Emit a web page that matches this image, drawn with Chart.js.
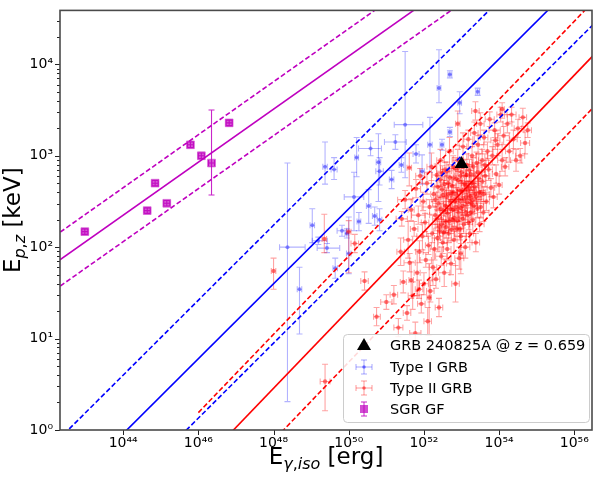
<!DOCTYPE html>
<html lang="en">
<head>
<meta charset="UTF-8">
<title>Ep,z - Eiso</title>
<script src="https://cdn.jsdelivr.net/npm/chart.js"></script>
<style>
    html, body { margin: 0; padding: 0; background: #fff; }
    canvas { display: block; }
</style>
</head>
<body>
<canvas id="amati" width="600" height="478"></canvas>
<script>
// everything below is in log10 units
const xRange = [42.32, 56.47];
const yRange = [0, 4.59];
const xTickExps = [44, 46, 48, 50, 52, 54, 56];
const yTickExps = [0, 1, 2, 3, 4];

const grbNew = [[53.0, 2.91]];

// [logE, logEp, xlo, xhi, ylo, yhi]
const typeI = [
    [52.69,3.89,.05,.05,.04,.04],[52.40,3.74,.05,.05,.16,.42],[53.43,3.70,.05,.05,.04,.04],
    [52.95,3.58,.05,.05,.12,.12],[52.69,3.26,.05,.05,.05,.05],[51.50,3.34,.29,.47,.58,.80],
    [51.24,3.15,.29,.29,.08,.08],[52.16,3.12,.06,.06,.30,.30],[52.48,3.12,.05,.05,.06,.06],
    [51.79,3.02,.08,.08,.10,.10],[50.58,3.08,.32,.29,.08,.08],[50.21,2.98,.05,.05,.21,.22],
    [50.79,2.93,.06,.06,.43,.31],[49.37,2.88,.06,.06,.19,.27],[49.61,2.85,.08,.08,.11,.13],
    [50.82,2.83,.10,.10,.15,.15],[51.95,2.83,.06,.06,.14,.18],[51.40,2.90,.06,.06,.08,.08],
    [50.14,2.55,.26,.26,.37,.27],[50.53,2.45,.06,.06,.19,.18],[50.69,2.34,.06,.06,.10,.10],
    [49.03,2.24,.06,.06,.19,.18],[48.37,2.00,.21,.47,1.69,.92],[49.82,2.18,.13,.13,.06,.06],
    [49.95,2.15,.05,.05,.05,.05],[50.27,2.28,.05,.05,.10,.10],[50.82,2.30,.06,.06,.12,.12],
    [49.19,2.07,.16,.24,.04,.04],[49.42,1.99,.26,.34,.05,.05],[48.69,1.54,.06,.06,.49,.24],
    [49.64,1.77,.06,.06,.11,.11],[50.00,1.93,.06,.06,.22,.40],[51.14,2.74,.06,.06,.10,.10]
];

// scattered type II points, [logE, logEp, xlo, xhi, ylo, yhi]
const typeIIOut = [
    [48.00,1.74,.06,.06,.20,.14],[49.35,2.09,.06,.06,.15,.27],[49.37,0.53,.13,.13,.32,.19],
    [50.00,2.17,.06,.06,.45,.12],[50.16,2.04,.10,.10,.10,.10],[50.42,1.63,.10,.10,.10,.10],
    [50.74,1.24,.08,.10,.10,.10],[51.00,1.40,.15,.15,.08,.08],[51.20,1.48,.10,.10,.10,.10],
    [51.61,2.87,.06,.06,.20,.16],[51.66,1.64,.06,.06,.20,.20],[51.87,1.54,.10,.10,.10,.10],
    [52.14,1.45,.06,.06,.41,.37],[52.98,1.93,.06,.06,.22,.22],[52.90,3.35,.06,.06,.24,.14],
    [54.08,3.51,.06,.06,.10,.07]
];

// main type II cloud, [logE, logEp, xerr, yerr]
const typeIICloud = [
    [51.32,1.12,.12,.10],[51.38,1.95,.10,.15],[51.41,2.31,.15,.08],[51.45,1.62,.08,.12],[51.50,2.52,.20,.10],
    [51.55,1.28,.10,.08],[51.58,2.08,.12,.20],[51.62,1.83,.15,.10],[51.66,2.41,.08,.12],[51.70,1.47,.12,.15],
    [51.74,2.20,.10,.08],[51.77,1.06,.15,.12],[51.79,2.64,.12,.10],[51.82,1.72,.08,.25],[51.85,2.35,.18,.10],
    [51.88,1.95,.10,.12],[51.90,2.78,.12,.08],[51.93,1.38,.10,.10],[51.96,2.12,.15,.15],[51.98,2.50,.08,.10],
    [52.00,1.60,.12,.12],[52.03,2.27,.10,.10],[52.05,1.86,.15,.08],[52.08,2.70,.12,.12],[52.10,1.19,.10,.15],
    [52.12,2.02,.08,.10],[52.15,2.44,.20,.08],[52.17,1.52,.10,.12],[52.20,2.88,.12,.15],[52.22,2.15,.15,.10],
    [52.24,1.78,.10,.20],[52.26,2.58,.08,.08],[52.28,1.98,.12,.12],[52.30,2.35,.15,.10],[52.32,1.65,.10,.10],
    [52.34,2.79,.12,.12],[52.36,2.10,.08,.15],[52.38,2.48,.15,.08],[52.40,1.34,.10,.10],[52.42,2.22,.12,.10],
    [52.44,2.95,.10,.12],[52.46,1.90,.15,.10],[52.48,2.63,.08,.08],[52.50,2.05,.12,.12],[52.52,2.40,.10,.10],
    [52.54,1.72,.15,.15],[52.56,2.85,.12,.08],[52.58,2.28,.08,.12],[52.60,2.55,.15,.10],[52.62,1.98,.10,.12],
    [52.64,2.70,.12,.08],[52.66,2.15,.15,.10],[52.68,3.05,.10,.15],[52.70,2.42,.08,.10],[52.72,1.82,.12,.12],
    [52.74,2.60,.15,.08],[52.76,2.30,.10,.10],[52.78,2.88,.12,.12],[52.80,2.08,.08,.15],[52.82,2.50,.15,.10],
    [52.84,1.60,.10,.20],[52.86,2.75,.12,.10],[52.88,2.20,.10,.08],[52.90,2.95,.15,.12],[52.92,2.38,.10,.10],
    [52.94,1.88,.12,.12],[52.96,2.62,.08,.10],[52.98,2.12,.15,.08],[53.00,2.82,.10,.12],[53.02,2.45,.12,.10],
    [53.04,3.10,.10,.15],[53.06,2.25,.15,.10],[53.08,2.70,.08,.08],[53.10,2.00,.12,.12],[53.12,2.55,.10,.10],
    [53.14,2.90,.15,.12],[53.16,2.35,.10,.08],[53.18,3.18,.12,.10],[53.20,2.65,.08,.12],[53.22,2.15,.10,.10],
    [53.24,2.80,.12,.08],[53.26,2.48,.15,.12],[53.28,3.00,.10,.10],[53.30,2.30,.08,.15],[53.32,2.70,.12,.10],
    [53.34,3.25,.10,.12],[53.36,2.58,.15,.08],[53.38,2.05,.10,.10],[53.40,2.92,.12,.12],[53.42,2.42,.08,.10],
    [53.44,3.12,.15,.10],[53.46,2.75,.10,.27],[53.48,2.25,.12,.08],[53.50,3.35,.10,.12],[53.52,2.60,.12,.10],
    [53.55,2.95,.10,.12],[53.58,2.38,.15,.10],[53.60,3.20,.10,.08],[53.63,2.78,.12,.12],[53.66,2.50,.08,.10],
    [53.69,3.05,.15,.10],[53.72,2.85,.10,.12],[53.75,3.40,.12,.08],[53.78,2.65,.10,.10],[53.82,3.00,.12,.10],
    [53.85,2.55,.10,.12],[53.88,3.28,.15,.08],[53.92,2.80,.10,.10],[53.96,3.12,.12,.12],[54.00,2.68,.08,.10],
    [54.04,3.45,.10,.08],[54.08,2.95,.12,.12],[54.12,3.22,.15,.10],[54.16,2.88,.10,.10],[54.22,3.35,.12,.10],
    [54.27,3.05,.10,.12],[54.33,3.45,.12,.08],[54.38,3.18,.10,.10],[54.45,2.95,.15,.12],[54.50,3.30,.10,.10],
    [54.56,3.00,.12,.08],[54.63,3.42,.10,.10],[54.69,3.14,.12,.12],[54.76,3.28,.10,.08],[53.37,3.49,.10,.10],
    [53.90,3.17,.12,.10],
    [52.31,2.52,.10,.08],[52.35,2.31,.12,.10],[52.37,2.66,.08,.12],[52.41,2.18,.15,.10],[52.43,2.74,.10,.08],
    [52.45,2.42,.12,.12],[52.47,2.25,.10,.10],[52.49,2.81,.15,.08],[52.51,2.57,.08,.10],[52.53,2.16,.12,.12],
    [52.55,2.69,.10,.10],[52.57,2.45,.15,.08],[52.59,2.22,.10,.12],[52.61,2.83,.12,.10],[52.63,2.37,.08,.08],
    [52.65,2.58,.10,.12],[52.67,2.28,.15,.10],[52.69,2.76,.10,.10],[52.71,2.50,.12,.08],[52.73,2.19,.08,.12],
    [52.75,2.67,.10,.10],[52.77,2.41,.15,.12],[52.79,2.60,.10,.08],[52.81,2.32,.12,.10],[52.83,2.86,.08,.12],
    [52.85,2.44,.10,.10],[52.87,2.57,.15,.08],[52.89,2.29,.10,.12],[52.91,2.73,.12,.10],[52.93,2.52,.08,.10],
    [52.95,2.20,.10,.12],[52.97,2.78,.15,.08],[52.99,2.43,.10,.10],[53.01,2.61,.12,.12],[53.03,2.31,.08,.10],
    [53.05,2.88,.10,.08],[53.07,2.52,.15,.12],[53.09,2.68,.10,.10],[53.11,2.38,.12,.08],[53.13,2.79,.08,.12],
    [53.15,2.49,.10,.10],[53.17,2.62,.15,.10],[53.19,2.27,.10,.08],[53.21,2.84,.12,.12],[53.23,2.56,.08,.10],
    [53.25,2.38,.10,.10],[53.27,2.70,.15,.08],[53.29,2.51,.10,.12],[53.31,2.88,.12,.10],[53.33,2.45,.08,.08],
    [53.35,2.66,.10,.12],[53.39,2.55,.15,.10],[53.43,2.82,.10,.10],[53.47,2.60,.12,.08],[53.51,2.44,.08,.12],
    [53.55,2.72,.10,.10],[53.59,2.58,.15,.08],[53.62,2.90,.10,.12]
];

// SGR giant flares, [logE, logEp, xerr, ylo, yhi]
const sgr = [
    [42.98,2.17,.08,.03,.03],[44.64,2.40,.08,.03,.03],[44.85,2.70,.08,.03,.03],[45.16,2.48,.08,.03,.03],
    [45.79,3.12,.08,.03,.03],[46.08,3.00,.08,.03,.03],[46.35,2.92,.08,.35,.58],[46.82,3.36,.08,.03,.03]
];

// fitted relations and their scatter, two end points each [logE, logEp]
const sgrFit = [[42, 1.77], [53, 4.96]];
const sgrFitHi = [[42, 2.07], [53, 5.26]];
const sgrFitLo = [[42, 1.48], [53, 4.67]];
const typeIFit = [[42, -0.86], [57, 5.29]];
const typeIFitHi = [[42, -0.22], [57, 5.93]];
const typeIFitLo = [[42, -1.51], [57, 4.64]];
const typeIIFit = [[46, -0.40], [57, 4.31]];
const typeIIFitHi = [[46, 0.19], [57, 4.90]];
const typeIIFitLo = [[46, -0.97], [57, 3.74]];

const pw = v => Math.pow(10, v);
const toPt = ([e, p, xlo, xhi, ylo, yhi]) => ({
    x: pw(e), y: pw(p), xl: pw(e - xlo), xh: pw(e + xhi), yl: pw(p - ylo), yh: pw(p + yhi)
});
const linePts = arr => arr.map(([e, p]) => ({ x: pw(e), y: pw(p) }));

const typeIPts = typeI.map(toPt);
const typeIIPts = typeIIOut.map(toPt)
    .concat(typeIICloud.map(([e, p, ex, ey]) => toPt([e, p, ex, ex, ey, ey])));
const sgrPts = sgr.map(([e, p, ex, ylo, yhi]) => toPt([e, p, ex, ex, ylo, yhi]));

const SUP = '⁰¹²³⁴⁵⁶⁷⁸⁹';
const powLabel = v => {
    const n = Math.round(Math.log10(v));
    return '10' + String(n).split('').map(d => SUP[+d]).join('');
};

const FONT = "'DejaVu Sans', sans-serif";
Chart.defaults.font.family = FONT;

// error bars drawn right under each dataset's markers
const errorBars = {
    id: 'errorBars',
    beforeDatasetDraw(chart, args) {
        const ds = chart.data.datasets[args.index];
        if (!ds.errColor) return;
        const { ctx, chartArea: a, scales: { x, y } } = chart;
        const cap = 3;
        ctx.save();
        ctx.beginPath();
        ctx.rect(a.left, a.top, a.width, a.height);
        ctx.clip();
        ctx.strokeStyle = ds.errColor;
        ctx.lineWidth = 1.1;
        ds.data.forEach(p => {
            const px = x.getPixelForValue(p.x), py = y.getPixelForValue(p.y);
            const x0 = x.getPixelForValue(p.xl), x1 = x.getPixelForValue(p.xh);
            const y0 = y.getPixelForValue(p.yl), y1 = y.getPixelForValue(p.yh);
            ctx.beginPath();
            ctx.moveTo(x0, py); ctx.lineTo(x1, py);
            ctx.moveTo(px, y0); ctx.lineTo(px, y1);
            ctx.moveTo(x0, py - cap); ctx.lineTo(x0, py + cap);
            ctx.moveTo(x1, py - cap); ctx.lineTo(x1, py + cap);
            ctx.moveTo(px - cap, y0); ctx.lineTo(px + cap, y0);
            ctx.moveTo(px - cap, y1); ctx.lineTo(px + cap, y1);
            ctx.stroke();
        });
        ctx.restore();
    }
};

// text pieces with sub-scripts; parts = [text, size, italic, drop]
function drawMath(ctx, parts, cx, baseY) {
    const fontOf = p => (p[2] ? 'italic ' : '') + p[1] + 'px ' + FONT;
    let total = 0;
    parts.forEach(p => { ctx.font = fontOf(p); total += ctx.measureText(p[0]).width; });
    let cur = cx - total / 2;
    ctx.textAlign = 'left';
    ctx.textBaseline = 'alphabetic';
    parts.forEach(p => {
        ctx.font = fontOf(p);
        ctx.fillText(p[0], cur, baseY + p[3]);
        cur += ctx.measureText(p[0]).width;
    });
}

const decorations = {
    id: 'decorations',
    afterDraw(chart) {
        const { ctx, chartArea: a, scales: { x, y } } = chart;
        ctx.save();

        // tick marks, outward
        ctx.strokeStyle = '#222';
        ctx.lineWidth = 1;
        ctx.beginPath();
        xTickExps.forEach(e => {
            const px = Math.round(x.getPixelForValue(pw(e))) + 0.5;
            ctx.moveTo(px, a.bottom); ctx.lineTo(px, a.bottom + 5);
        });
        for (let n = 0; n <= 4; n++) {
            for (let k = 1; k <= 9; k++) {
                const v = k * pw(n);
                if (v > y.max) break;
                const py = Math.round(y.getPixelForValue(v)) + 0.5;
                const len = k === 1 ? 5 : 3;
                ctx.moveTo(a.left - len, py); ctx.lineTo(a.left, py);
            }
        }
        ctx.stroke();

        // frame
        ctx.strokeStyle = '#4a4a4a';
        ctx.lineWidth = 1.6;
        ctx.strokeRect(a.left, a.top, a.width, a.height);

        // axis titles
        ctx.fillStyle = '#000';
        drawMath(ctx, [['E', 23, false, 0], ['γ', 16, true, 5], [',', 16, false, 5], ['iso', 16, true, 5], [' [erg]', 23, false, 0]],
            (a.left + a.right) / 2, 464);
        ctx.save();
        ctx.translate(20, (a.top + a.bottom) / 2);
        ctx.rotate(-Math.PI / 2);
        drawMath(ctx, [['E', 23, false, 0], ['p', 16, true, 5], [',', 16, false, 5], ['z', 16, true, 5], [' [keV]', 23, false, 0]], 0, 0);
        ctx.restore();

        // legend
        const lx = 343, ly = 334, lw = 246, lh = 88;
        ctx.fillStyle = 'rgba(255,255,255,0.85)';
        ctx.strokeStyle = '#cccccc';
        ctx.lineWidth = 1;
        ctx.beginPath();
        ctx.roundRect(lx + 0.5, ly + 0.5, lw, lh, 4);
        ctx.fill();
        ctx.stroke();

        const mx = 364;
        const rows = [345, 367, 388, 409];
        ctx.fillStyle = '#000';
        ctx.beginPath();
        ctx.moveTo(mx, rows[0] - 7); ctx.lineTo(mx + 7, rows[0] + 5); ctx.lineTo(mx - 7, rows[0] + 5);
        ctx.closePath();
        ctx.fill();
        const icon = (cy, col, horiz) => {
            ctx.strokeStyle = col;
            ctx.beginPath();
            if (horiz) {
                ctx.moveTo(mx - 8, cy); ctx.lineTo(mx + 8, cy);
                ctx.moveTo(mx - 8, cy - 3); ctx.lineTo(mx - 8, cy + 3);
                ctx.moveTo(mx + 8, cy - 3); ctx.lineTo(mx + 8, cy + 3);
            }
            ctx.moveTo(mx, cy - 7); ctx.lineTo(mx, cy + 7);
            ctx.moveTo(mx - 3, cy - 7); ctx.lineTo(mx + 3, cy - 7);
            ctx.moveTo(mx - 3, cy + 7); ctx.lineTo(mx + 3, cy + 7);
            ctx.stroke();
        };
        icon(rows[1], 'rgba(0,0,255,0.35)', true);
        ctx.fillStyle = 'rgba(0,0,255,0.45)';
        ctx.beginPath(); ctx.arc(mx, rows[1], 1.8, 0, Math.PI * 2); ctx.fill();
        icon(rows[2], 'rgba(255,0,0,0.4)', true);
        ctx.fillStyle = 'rgba(255,0,0,0.5)';
        ctx.beginPath(); ctx.arc(mx, rows[2], 1.8, 0, Math.PI * 2); ctx.fill();
        icon(rows[3], 'rgba(191,0,191,0.85)', false);
        ctx.fillStyle = 'rgba(191,0,191,0.7)';
        ctx.fillRect(mx - 4, rows[3] - 4, 8, 8);

        ctx.fillStyle = '#000';
        ctx.font = '14.5px ' + FONT;
        ctx.textAlign = 'left';
        ctx.textBaseline = 'middle';
        ['GRB 240825A @ z = 0.659', 'Type I GRB', 'Type II GRB', 'SGR GF']
            .forEach((t, i) => ctx.fillText(t, 390, rows[i] + 1));
        ctx.restore();
    }
};

const fitLine = (data, color, dashed) => ({
    type: 'scatter', data: linePts(data), showLine: true, borderColor: color,
    borderWidth: 1.6, borderDash: dashed ? [5, 2.5] : [], pointRadius: 0, order: 2
});

new Chart(document.getElementById('amati'), {
    type: 'scatter',
    data: {
        datasets: [
            { label: 'Type I GRB', data: typeIPts, errColor: 'rgba(0,0,255,0.3)',
              backgroundColor: 'rgba(0,0,255,0.4)', borderWidth: 0, pointRadius: 2, order: 5 },
            { label: 'Type II GRB', data: typeIIPts, errColor: 'rgba(255,0,0,0.36)',
              backgroundColor: 'rgba(255,0,0,0.5)', borderWidth: 0, pointRadius: 2.2, order: 4 },
            { label: 'SGR GF', data: sgrPts, errColor: 'rgba(191,0,191,0.85)',
              backgroundColor: 'rgba(191,0,191,0.65)', borderColor: 'rgba(191,0,191,0.4)', borderWidth: 1,
              pointStyle: 'rect', pointRadius: 5.5, order: 3 },
            fitLine(sgrFit, '#bf00bf', false),
            fitLine(sgrFitHi, '#bf00bf', true),
            fitLine(sgrFitLo, '#bf00bf', true),
            fitLine(typeIFit, '#0000ff', false),
            fitLine(typeIFitHi, '#0000ff', true),
            fitLine(typeIFitLo, '#0000ff', true),
            fitLine(typeIIFit, '#ff0000', false),
            fitLine(typeIIFitHi, '#ff0000', true),
            fitLine(typeIIFitLo, '#ff0000', true),
            { label: 'GRB 240825A @ z = 0.659', data: linePts(grbNew), pointStyle: 'triangle',
              pointRadius: 8, backgroundColor: '#000', borderColor: '#000', borderWidth: 0, order: 1 }
        ]
    },
    options: {
        responsive: false,
        animation: false,
        events: [],
        layout: { padding: { top: 3, right: 3, left: 0, bottom: 0 } },
        plugins: { legend: { display: false }, tooltip: { enabled: false } },
        scales: {
            x: {
                type: 'logarithmic',
                min: pw(xRange[0]), max: pw(xRange[1]),
                afterFit(s) { s.height = 48; },
                afterBuildTicks(s) { s.ticks = xTickExps.map(e => ({ value: pw(e) })); },
                ticks: { callback: v => powLabel(v), color: '#000', font: { size: 14 },
                         padding: 0, maxRotation: 0, autoSkip: false },
                grid: { drawOnChartArea: false, color: 'rgba(0,0,0,0)', tickLength: 5 },
                border: { display: false }
            },
            y: {
                type: 'logarithmic',
                min: pw(yRange[0]), max: pw(yRange[1]),
                afterFit(s) { s.width = 60; },
                afterBuildTicks(s) { s.ticks = yTickExps.map(e => ({ value: pw(e) })); },
                ticks: { callback: v => powLabel(v), color: '#000', font: { size: 14 },
                         padding: 2, autoSkip: false },
                grid: { drawOnChartArea: false, color: 'rgba(0,0,0,0)', tickLength: 5 },
                border: { display: false }
            }
        }
    },
    plugins: [errorBars, decorations]
});
</script>
</body>
</html>
